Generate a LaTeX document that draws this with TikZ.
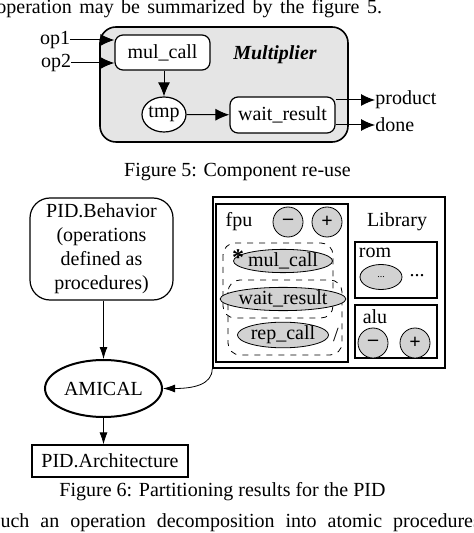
\documentclass[tikz,border=0pt]{standalone}
\usepackage{fontspec}
\setmainfont{Liberation Serif}
\usetikzlibrary{positioning,arrows.meta,shapes.geometric}
\tikzset{
blk/.style={
  draw,
  rounded corners=4pt,
  fill=white,
  inner sep=0pt,
  line width=0.6pt
  },
opn/.style={
  draw,
  ellipse,
  fill=gray!35,
  inner sep=0pt,
  minimum height=10pt
  },
unitop/.style={
  draw,
  circle,
  fill=gray!35,
  inner sep=0pt,
  minimum size=15pt,
  font=\bfseries
  },
grp/.style={
  draw,
  dashed,
  rounded corners=6pt
  },
box/.style={
  draw,
  inner sep=0pt,
  line width=0.6pt
  },
lbl/.style={inner sep=0pt},
bigarr/.style={-{Latex[length=7pt,width=6pt]},line width=0.5pt},
smallarr/.style={-{Latex[length=6pt,width=4pt]},line width=0.4pt}
}

\begin{document}
\begin{tikzpicture}[x=0.5pt,y=-0.5pt]
            \useasboundingbox (0,0) rectangle (474,533);
            % text of the page
            \node[lbl,anchor=base west] (toptext) at (-4,14)
                {\spaceskip=3.7pt operation may be summarized by the figure 5.};
            \node[lbl,anchor=base west] (bottext) at (-11,527)
                {\spaceskip=5.5pt Such an operation decomposition into atomic procedures};

            % figure 5
            \node[draw,rounded corners=8pt,fill=gray!20,line width=0.8pt,
                  minimum width=124pt,minimum height=57.5pt] (mult) at (224,84.5) {};
            \node[blk,minimum width=47.5pt,minimum height=17.5pt] (mulcall) at (162.5,52.5) {mul\_call};
            \node[lbl,font=\bfseries\itshape] (multname) at (275,55) {Multiplier};
            \node[draw,ellipse,fill=white,inner sep=0pt,line width=0.6pt,
                  minimum width=19pt,minimum height=17.5pt] (tmp) at (164,114.5) {tmp};
            \node[blk,minimum width=52.5pt,minimum height=18pt] (wait) at (282.5,115) {wait\_result};
            \node[lbl] (op1) at (55,40) {op1};
            \node[lbl] (op2) at (56,63) {op2};
            \node[lbl,anchor=west] (product) at (375,100) {product};
            \node[lbl,anchor=west] (done) at (375,125) {done};
            \draw[bigarr] (op1.east) -- (op1.east -| mulcall.west);
            \draw[bigarr] (op2.east) -- (op2.east -| mulcall.west);
            \draw[bigarr] (mulcall.south -| tmp.north) -- (tmp.north);
            \draw[bigarr] (tmp) -- (wait);
            \draw[bigarr] (wait.east |- product.west) -- (product.west);
            \draw[bigarr] (wait.east |- done.west) -- (done.west);
            \node[lbl,anchor=base] (cap5) at (237.5,177) {Figure 5: Component re-use};

            % figure 6
            \node[blk,rounded corners=10pt,align=center,minimum width=71.5pt,minimum height=51pt] (behav) at (101.5,249)
                {PID.Behavior\\(operations\\defined as\\procedures)};
            \node[draw,ellipse,inner sep=0pt,line width=1pt,minimum width=58.5pt,minimum height=28.5pt] (amical) at (103.5,388.5) {AMICAL};
            \node[box,minimum width=78pt,minimum height=16pt] (arch) at (110,461) {PID.Architecture};
            \node[box,line width=0.8pt,minimum width=116pt,minimum height=85.5pt] (lib) at (329,282.5) {};
            \node[box,minimum width=66pt,minimum height=79pt] (fpu) at (282,283) {};
            \node[lbl] (fpuname) at (239,222) {fpu};
            \node[unitop] (fminus) at (288,222) {–};
            \node[unitop] (fplus) at (327,222) {+};
            \node[lbl] (libname) at (397,222) {Library};
            \draw[grp] (223,243) rectangle (333,318);
            \draw[grp] (228,280) rectangle (342,355);
            \node[opn,minimum width=39.5pt] (mulop) at (283,261) {mul\_call};
            \node[lbl,font=\large\bfseries] (star) at (238,258) {*};
            \node[opn,minimum width=47.5pt] (waitop) at (283,299) {wait\_result};
            \node[opn,minimum width=37.5pt] (repop) at (283,335) {rep\_call};
            \node[lbl] (slash) at (336,335) {/};
            \node[box,minimum width=41pt,minimum height=28pt] (rom) at (396,270) {};
            \node[lbl] (romname) at (375,253) {rom};
            \node[opn,minimum width=21pt,minimum height=12.5pt,font=\tiny] (romop) at (381,277) {...};
            \node[lbl] (romdots) at (417,276) {...};
            \node[box,minimum width=41pt,minimum height=26.5pt] (alu) at (396,331.5) {};
            \node[lbl] (aluname) at (375,317) {alu};
            \node[unitop] (aminus) at (373,343) {–};
            \node[unitop] (aplus) at (415,343) {+};
            \draw[smallarr] (behav.south -| amical.north) -- (amical.north);
            \draw[smallarr] (amical.south) -- (amical.south |- arch.north);
            \draw[smallarr] (lib.south west) .. controls +(0,16) and +(30,0) .. (amical.east);
            \node[lbl,anchor=base] (cap6) at (222.5,496) {Figure 6: Partitioning results for the PID};
        \end{tikzpicture}
\end{document}
